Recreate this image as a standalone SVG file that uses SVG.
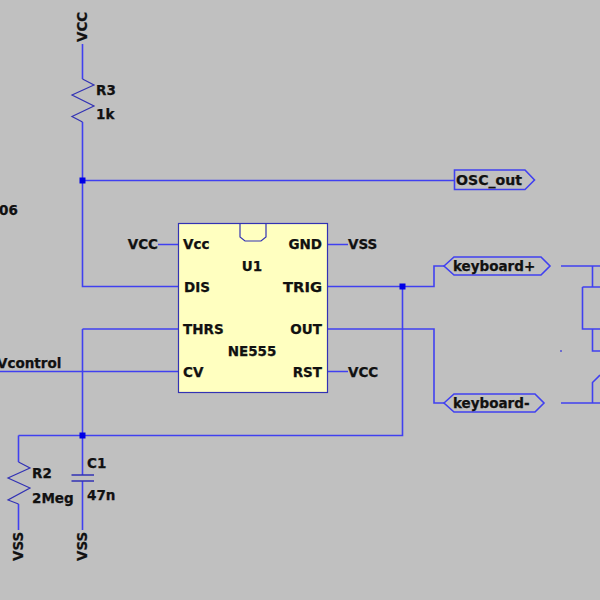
<svg xmlns="http://www.w3.org/2000/svg" width="600" height="600" viewBox="0 0 600 600">
<style>
text{font-family:"DejaVu Sans","Liberation Sans",sans-serif;font-weight:700;font-size:13.5px;fill:#111;stroke:#111;stroke-width:.25}
.w{fill:none;stroke:#4040f0;stroke-width:1.6}
.s{fill:none;stroke:#3232b4;stroke-width:1.2}
.p{fill:none;stroke:#3232b4;stroke-width:1.7}
.j{fill:#0000e6}
.m{text-anchor:middle}.e{text-anchor:end}
</style>
<rect width="600" height="600" fill="#c0c0c0"/>
<g id="connectors">
<path class="w" d="M82.500 44V79M82.500 122V286.500H179M82.500 180.500H454.500M158 244.500H179M327 244.500H348M327 286.500H434V266H444M327 329H434V403H444M82.500 329H179M82.500 329V475M82.500 481V530M0 371.500H179M327 371.500H348M18.500 435.500H402.500V286.500M18.500 435.500V462M18.500 504V530M561 266H600M592.500 266V287M582.500 287H600M582.500 287V329H600M592.500 329V351H600M561 403H600M592.500 403V382.500L600 375"/>
<circle class="j" cx="561" cy="351" r="0.8"/>
<rect class="j" x="79.500" y="177.500" width="6" height="6"/>
<rect class="j" x="399.500" y="283.500" width="6" height="6"/>
<rect class="j" x="79.500" y="432.500" width="6" height="6"/>
</g>
<g id="R3"><path class="s" d="M82.500 79L94 85L72 95L94 106L72 116.500L82.500 122"/><text x="96" y="95">R3</text><text x="96" y="119">1k</text></g>
<g id="R2"><path class="s" d="M18.500 462L30 468L8 478L30 488L8 500L18.500 504"/><text x="32" y="478">R2</text><text x="32" y="503">2Meg</text></g>
<g id="C1"><path class="p" d="M71.500 475H94M71.500 481H94"/><text x="87" y="468">C1</text><text x="87" y="500">47n</text></g>
<g id="U1"><rect x="178.500" y="223.500" width="149" height="169" fill="#ffffc0" stroke="#3232b4" stroke-width="1.2"/><path class="s" d="M240 223.500V237L245 241H261L266 237V223.500"/>
<text x="183" y="249">Vcc</text><text x="184" y="292">DIS</text><text x="183" y="334">THRS</text><text x="183" y="377">CV</text>
<text class="e" x="322" y="249">GND</text><text class="e" x="322" y="292" textLength="39" lengthAdjust="spacingAndGlyphs">TRIG</text><text class="e" x="322" y="334">OUT</text><text class="e" x="322" y="377">RST</text>
<text class="m" x="252" y="271">U1</text><text class="m" x="252" y="356">NE555</text></g>
<g id="OSC_out"><path class="w" d="M454.500 170H525L534.500 180L525 189.500H454.500Z"/><text x="456" y="185" textLength="66" lengthAdjust="spacingAndGlyphs">OSC_out</text></g>
<g id="keyboard-plus"><path class="w" d="M444 266L454 257H541L550 266L541 275H454Z"/><text x="453" y="271">keyboard+</text></g>
<g id="keyboard-minus"><path class="w" d="M444 403L454 394H535L544 403L535 412H454Z"/><text x="453" y="408">keyboard-</text></g>
<g id="labels">
<text x="-1" y="215">06</text><text x="-3" y="368">Vcontrol</text>
<text class="e" x="158" y="249">VCC</text><text x="348" y="249">VSS</text><text x="348" y="377">VCC</text>
<text transform="translate(87 42) rotate(-90)">VCC</text>
<text transform="translate(23 561) rotate(-90)">VSS</text>
<text transform="translate(87 561) rotate(-90)">VSS</text>
</g>
</svg>
